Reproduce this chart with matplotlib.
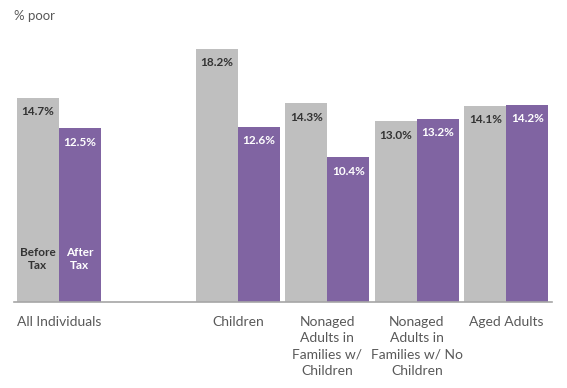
import numpy as np
import matplotlib.pyplot as plt

categories = ['All Individuals', 'Children', 'Nonaged\nAdults in\nFamilies w/\nChildren',
              'Nonaged\nAdults in\nFamilies w/ No\nChildren', 'Aged Adults']
positions = [0, 2, 3, 4, 5]
before_tax = [14.7, 18.2, 14.3, 13.0, 14.1]
after_tax = [12.5, 12.6, 10.4, 13.2, 14.2]

gray = '#bfbfbf'
purple = '#8064a2'
font = 'Lato'

fig = plt.figure(figsize=(5.67, 3.88), dpi=100)
ax = fig.add_axes([14 / 567, 86 / 388, 538 / 567, 278 / 388])

w = 0.47
x = np.array(positions, dtype=float)
ax.bar(x - w / 2, before_tax, w, color=gray)
ax.bar(x + w / 2, after_tax, w, color=purple)

for xi, b, a in zip(x, before_tax, after_tax):
    ax.text(xi - w / 2, b - 0.6, '%.1f%%' % b, ha='center', va='top',
            fontsize=8.5, fontweight='bold', color='#333333', family=font)
    ax.text(xi + w / 2, a - 0.6, '%.1f%%' % a, ha='center', va='top',
            fontsize=8.5, fontweight='bold', color='white', family=font)

ax.text(x[0] - w / 2, 3.1, 'Before\nTax', ha='center', va='center', fontsize=8.5,
        fontweight='bold', color='#333333', family=font, linespacing=1.15)
ax.text(x[0] + w / 2, 3.1, 'After\nTax', ha='center', va='center', fontsize=8.5,
        fontweight='bold', color='white', family=font, linespacing=1.15)

ax.set_xlim(-0.5, 5.51)
ax.set_ylim(0, 20)
ax.set_xticks(positions)
ax.set_xticklabels(categories, fontsize=10, color='#595959', family=font, linespacing=1.45, va='top')
ax.tick_params(axis='x', length=0, pad=10)
ax.set_yticks([])
for s in ['top', 'left', 'right']:
    ax.spines[s].set_visible(False)
ax.spines['bottom'].set_color('#a6a6a6')
ax.spines['bottom'].set_linewidth(1.2)

fig.text(14 / 567, 1 - 16 / 388, '% poor', fontsize=9.5, color='#595959', family=font, va='center')

fig.savefig('out.png', dpi=100)
